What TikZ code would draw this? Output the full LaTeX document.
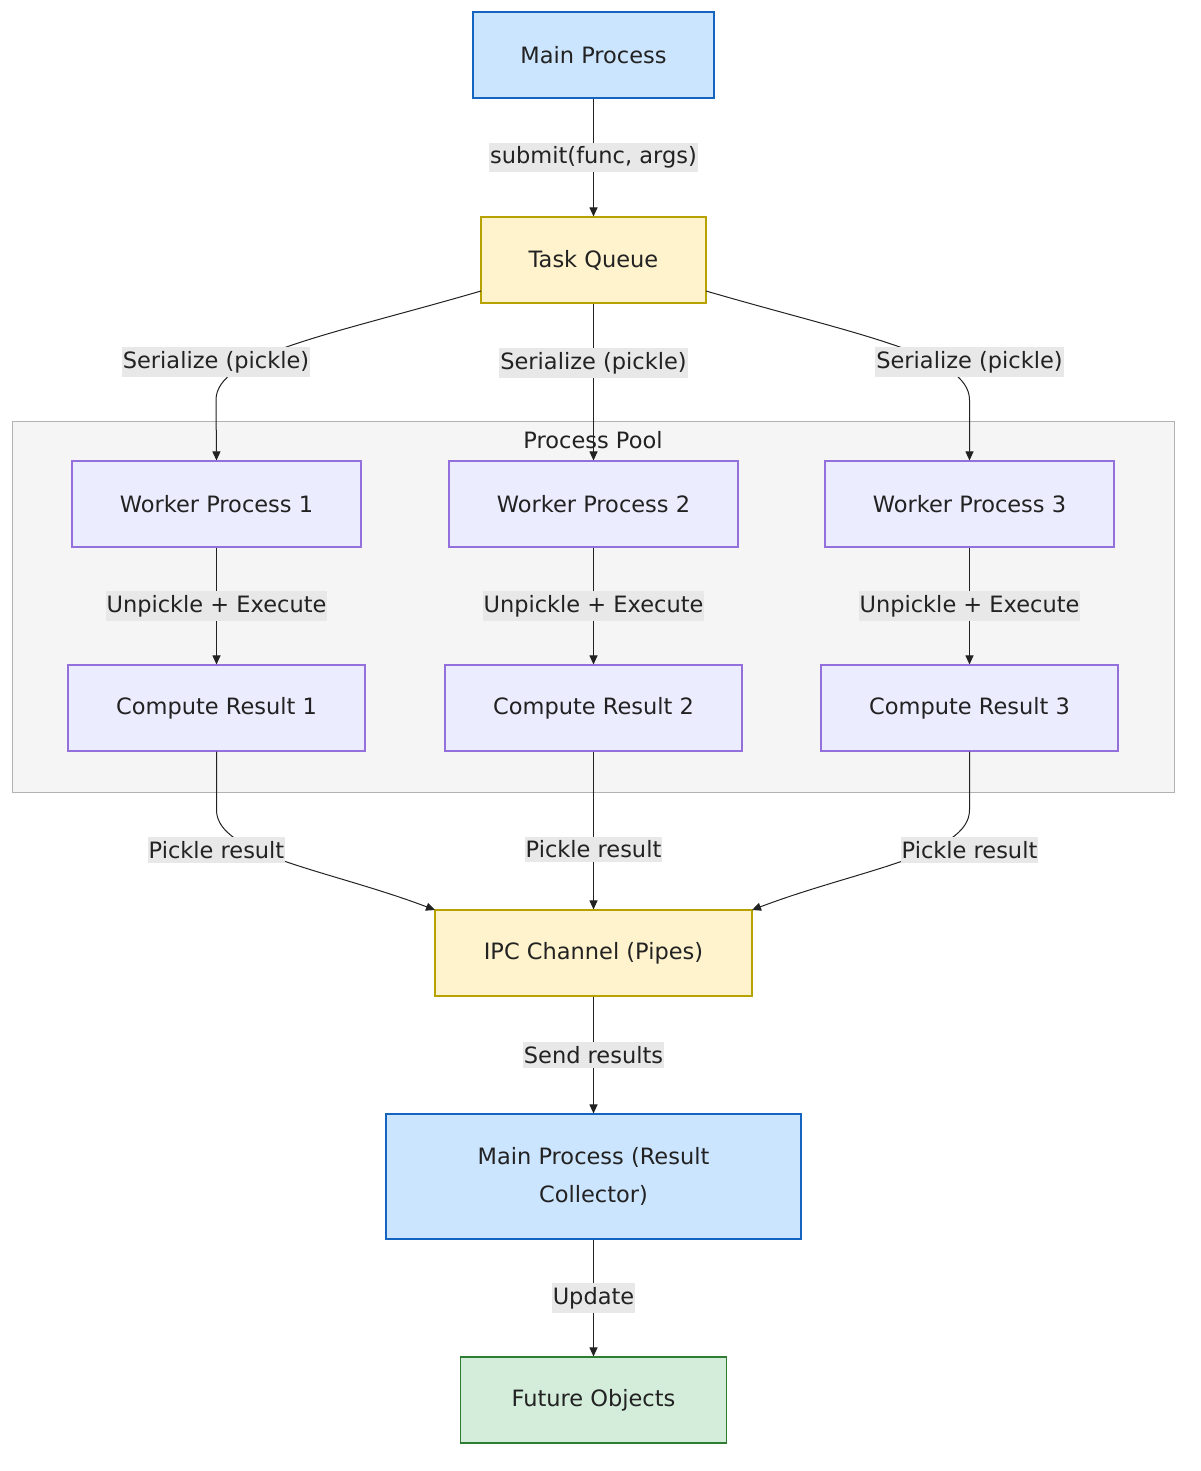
\documentclass[tikz,border=0pt]{standalone}
\usepackage{fontspec}
\setmainfont{DejaVu Sans}
\usetikzlibrary{arrows.meta}
\definecolor{bfill}{HTML}{CCE5FF}\definecolor{bdraw}{HTML}{1565C0}
\definecolor{yfill}{HTML}{FFF3CD}\definecolor{ydraw}{HTML}{B8A200}
\definecolor{pfill}{HTML}{ECECFF}\definecolor{pdraw}{HTML}{9370DB}
\definecolor{gfill}{HTML}{D4EDDA}\definecolor{gdraw}{HTML}{2E7D32}
\definecolor{lbl}{HTML}{E8E8E8}\definecolor{txt}{HTML}{222222}
\begin{document}
\begin{tikzpicture}[x=1pt,y=-1pt,
 every node/.style={font=\fontsize{22.5}{38}\selectfont,text=txt},
 box/.style={draw,line width=1.1pt,minimum height=86pt,inner sep=0pt,align=center},
 blue/.style={box,fill=bfill,draw=bdraw},
 yel/.style={box,fill=yfill,draw=ydraw},
 pur/.style={box,fill=pfill,draw=pdraw},
 grn/.style={box,fill=gfill,draw=gdraw},
 lab/.style={fill=lbl,inner xsep=1pt,inner ysep=4pt},
 arr/.style={draw=txt,line width=1pt,-{Triangle[length=9pt,width=8pt]}}]
\useasboundingbox (0,0) rectangle (1200,1471);
\node[draw=black!30,fill=black!4,line width=1pt,minimum width=1162pt,minimum height=371pt,inner sep=0pt] (pool) at (593,606.5) {};
\node (poollab) at (593,440) {Process Pool};
\node[blue,minimum width=241pt] (mp) at (593.5,55) {Main Process};
\node[yel,minimum width=225pt] (tq) at (593.5,260) {Task Queue};
\foreach \i/\x in {1/216.5,2/593.5,3/969.5}{
 \node[pur,minimum width=289pt] (w\i) at (\x,504) {Worker Process \i};
 \node[pur,minimum width=297pt] (c\i) at (\x,708) {Compute Result \i};
}
\node[yel,minimum width=317pt] (ipc) at (593.5,953) {IPC Channel (Pipes)};
\node[blue,minimum width=415pt,minimum height=125pt] (mc) at (593.5,1176.5) {Main Process (Result\\Collector)};
\node[grn,minimum width=266pt] (fo) at (593.5,1400) {Future Objects};
\coordinate (t1) at (481,291); \coordinate (t3) at (706,291);
\coordinate (i1) at (435,910); \coordinate (i3) at (752,910);
\draw[arr] (mp) -- (tq) node[lab,midway] {submit(func, args)};
\draw[arr] (t1) .. controls (330,335) and (216,355) .. (216,400) -- (w1.north);
\node[lab] at (216,362) {Serialize (pickle)};
\draw[arr] (tq) -- (w2) node[lab,pos=0.38] {Serialize (pickle)};
\draw[arr] (t3) .. controls (857,335) and (969.5,355) .. (969.5,400) -- (w3.north);
\node[lab] at (969.5,362) {Serialize (pickle)};
\foreach \i in {1,2,3}{\draw[arr] (w\i) -- (c\i) node[lab,midway] {Unpickle + Execute};}
\draw[arr] (c1.south) -- (216.5,810) .. controls (216.5,855) and (330,870) .. (i1);
\node[lab] at (216.5,850) {Pickle result};
\draw[arr] (c2) -- (ipc) node[lab,pos=0.62] {Pickle result};
\draw[arr] (c3.south) -- (969.5,810) .. controls (969.5,855) and (857,870) .. (i3);
\node[lab] at (969.5,850) {Pickle result};
\draw[arr] (ipc) -- (mc) node[lab,midway] {Send results};
\draw[arr] (mc) -- (fo) node[lab,midway] {Update};
\end{tikzpicture}
\end{document}
